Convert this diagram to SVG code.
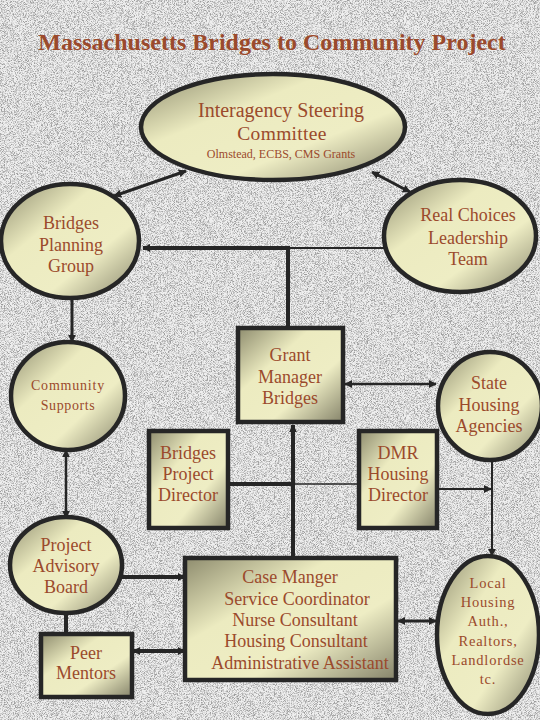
<svg xmlns="http://www.w3.org/2000/svg" width="540" height="720" viewBox="0 0 540 720">
<defs>
<filter id="noise" x="0" y="0" width="100%" height="100%">
<feTurbulence type="fractalNoise" baseFrequency="1.3" numOctaves="2" seed="5" result="t"/>
<feColorMatrix in="t" type="matrix" values="0 0 0 0 0  0 0 0 0 0  0 0 0 0 0  0 0 0 -3.2 1.85" result="a"/>
<feFlood flood-color="#9c9c9c" result="f"/>
<feComposite in="f" in2="a" operator="in"/>
</filter>
<linearGradient id="g" x1="0" y1="0" x2="1" y2="1">
<stop offset="0" stop-color="#8e8c6e"/>
<stop offset="0.35" stop-color="#ecebc0"/>
<stop offset="0.65" stop-color="#eeedc4"/>
<stop offset="1" stop-color="#85836a"/>
</linearGradient>
<marker id="ah" viewBox="0 0 10 10" refX="9" refY="5" markerWidth="8" markerHeight="8" markerUnits="userSpaceOnUse" orient="auto-start-reverse">
<path d="M0,0 L10,5 L0,10 z" fill="#262626"/>
</marker>
</defs>
<style>
.node{fill:url(#g);stroke:#262626;stroke-width:4.5}
.t{fill:#9b4a2c;text-anchor:middle}
.b{font-size:18px}
.c{fill:none;stroke:#262626}
</style>
<rect width="540" height="720" fill="#efefef"/>
<rect width="540" height="720" filter="url(#noise)"/>
<g font-family="'Liberation Serif', 'Times New Roman', serif">
<text class="t" x="272" y="50" font-size="24" font-weight="bold" fill="#9b3e2a">Massachusetts Bridges to Community Project</text>

<g id="connectors">
<line class="c" x1="186" y1="171" x2="114" y2="196" stroke-width="3" marker-start="url(#ah)" marker-end="url(#ah)"/>
<line class="c" x1="372" y1="172" x2="410" y2="192" stroke-width="3" marker-start="url(#ah)" marker-end="url(#ah)"/>
<line class="c" x1="288" y1="248" x2="143" y2="248" stroke-width="4" marker-end="url(#ah)"/>
<line class="c" x1="288" y1="248" x2="388" y2="248" stroke-width="2"/>
<line class="c" x1="288" y1="246" x2="288" y2="328" stroke-width="4"/>
<line class="c" x1="72" y1="298" x2="72" y2="342" stroke-width="3" marker-end="url(#ah)"/>
<line class="c" x1="345" y1="384" x2="436" y2="384" stroke-width="2.5" marker-start="url(#ah)" marker-end="url(#ah)"/>
<line class="c" x1="66" y1="450" x2="66" y2="518" stroke-width="2.5" marker-start="url(#ah)" marker-end="url(#ah)"/>
<line class="c" x1="293" y1="558" x2="293" y2="425" stroke-width="4" marker-end="url(#ah)"/>
<line class="c" x1="228" y1="484" x2="294" y2="484" stroke-width="4"/>
<line class="c" x1="294" y1="484" x2="359" y2="484" stroke-width="1.5"/>
<line class="c" x1="437" y1="489" x2="491" y2="489" stroke-width="2" marker-end="url(#ah)"/>
<line class="c" x1="492" y1="460" x2="492" y2="556" stroke-width="2" marker-end="url(#ah)"/>
<line class="c" x1="121" y1="577" x2="185" y2="577" stroke-width="4" marker-end="url(#ah)"/>
<line class="c" x1="66" y1="612" x2="66" y2="634" stroke-width="4"/>
<line class="c" x1="133" y1="651" x2="185" y2="651" stroke-width="4" marker-start="url(#ah)" marker-end="url(#ah)"/>
<line class="c" x1="398" y1="621" x2="436" y2="621" stroke-width="3" marker-start="url(#ah)" marker-end="url(#ah)"/>
</g>

<g id="steering">
<ellipse class="node" cx="273" cy="127" rx="132" ry="53"/>
<text class="t" x="281" y="117" font-size="20">Interagency Steering</text>
<text class="t" x="282" y="140" font-size="19.5" letter-spacing="0.3">Committee</text>
<text class="t" x="281" y="158" font-size="12">Olmstead, ECBS, CMS Grants</text>
</g>

<g id="planning">
<ellipse class="node" cx="70" cy="241" rx="69" ry="57"/>
<text class="t b" x="71" y="229">Bridges</text>
<text class="t b" x="71" y="251">Planning</text>
<text class="t b" x="71" y="272">Group</text>
</g>

<g id="realchoices">
<ellipse class="node" cx="460" cy="236" rx="76" ry="56"/>
<text class="t b" x="468" y="221">Real Choices</text>
<text class="t b" x="468" y="244">Leadership</text>
<text class="t b" x="468" y="265">Team</text>
</g>

<g id="grantmanager">
<rect class="node" x="238" y="328" width="105" height="94"/>
<text class="t b" x="290" y="361">Grant</text>
<text class="t b" x="290" y="383">Manager</text>
<text class="t b" x="290" y="404">Bridges</text>
</g>

<g id="community">
<ellipse class="node" cx="68" cy="396" rx="57" ry="54"/>
<text class="t" x="68" y="390" font-size="14" letter-spacing="0.8">Community</text>
<text class="t" x="68" y="410" font-size="14" letter-spacing="0.6">Supports</text>
</g>

<g id="statehousing">
<ellipse class="node" cx="490" cy="406" rx="52" ry="54"/>
<text class="t b" x="489" y="389">State</text>
<text class="t b" x="489" y="411">Housing</text>
<text class="t b" x="489" y="432">Agencies</text>
</g>

<g id="projectdirector">
<rect class="node" x="149" y="431" width="79" height="97"/>
<text class="t b" x="188" y="459">Bridges</text>
<text class="t b" x="188" y="480">Project</text>
<text class="t b" x="188" y="501">Director</text>
</g>

<g id="dmr">
<rect class="node" x="359" y="431" width="78" height="97"/>
<text class="t b" x="398" y="459">DMR</text>
<text class="t b" x="398" y="480">Housing</text>
<text class="t b" x="398" y="501">Director</text>
</g>

<g id="advisory">
<ellipse class="node" cx="66" cy="565" rx="56" ry="48"/>
<text class="t b" x="66" y="551">Project</text>
<text class="t b" x="66" y="572">Advisory</text>
<text class="t b" x="66" y="593">Board</text>
</g>

<g id="peer">
<rect class="node" x="41" y="634" width="91" height="63"/>
<text class="t b" x="86" y="659">Peer</text>
<text class="t b" x="86" y="679">Mentors</text>
</g>

<g id="casemanager">
<rect class="node" x="185" y="558" width="211" height="122"/>
<text class="t b" x="290" y="583">Case Manger</text>
<text class="t b" x="297" y="605">Service Coordinator</text>
<text class="t b" x="295" y="626">Nurse Consultant</text>
<text class="t b" x="296" y="647">Housing Consultant</text>
<text class="t b" x="300" y="669">Administrative Assistant</text>
</g>

<g id="localhousing">
<ellipse class="node" cx="488" cy="635" rx="51" ry="79"/>
<text class="t" x="488" y="588" font-size="14.5" letter-spacing="0.8">Local</text>
<text class="t" x="488" y="607" font-size="14.5" letter-spacing="0.8">Housing</text>
<text class="t" x="488" y="626" font-size="14.5" letter-spacing="0.8">Auth.,</text>
<text class="t" x="488" y="646" font-size="14.5" letter-spacing="0.8">Realtors,</text>
<text class="t" x="488" y="665" font-size="14.5" letter-spacing="0.8">Landlordse</text>
<text class="t" x="488" y="684" font-size="14.5" letter-spacing="0.8">tc.</text>
</g>
</g>
</svg>
